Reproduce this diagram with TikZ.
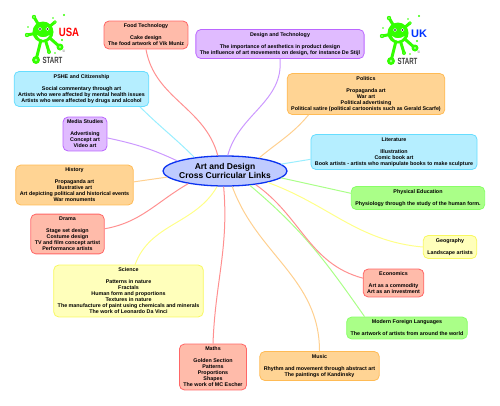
\documentclass[tikz,border=0pt]{standalone}
\usepackage{fontspec}
\setmainfont{Liberation Sans}
\usetikzlibrary{positioning, shapes.geometric}
\definecolor{redfill}{HTML}{FFBBAA}
\definecolor{redline}{HTML}{FF6666}
\definecolor{redlink}{HTML}{FF9090}
\definecolor{violetfill}{HTML}{E0BBFF}
\definecolor{violetline}{HTML}{BB66FF}
\definecolor{violetlink}{HTML}{CC99FF}
\definecolor{cyanfill}{HTML}{B5EEFF}
\definecolor{cyanline}{HTML}{66DDFF}
\definecolor{cyanlink}{HTML}{99EEFF}
\definecolor{orangefill}{HTML}{FFD494}
\definecolor{orangeline}{HTML}{FFBB55}
\definecolor{orangelink}{HTML}{FFD08F}
\definecolor{greenfill}{HTML}{AAFF88}
\definecolor{greenline}{HTML}{88FF66}
\definecolor{greenlink}{HTML}{AAFF88}
\definecolor{yellowfill}{HTML}{FFFFBB}
\definecolor{yellowline}{HTML}{F8F860}
\definecolor{yellowlink}{HTML}{FFFF88}
\definecolor{hubfill}{HTML}{BFCBFF}
\definecolor{hubline}{HTML}{0A32F0}
\definecolor{splatgreen}{HTML}{33FF00}
\tikzset{
    topic/.style={rectangle, rounded corners=5pt, draw=#1line, fill=#1fill, line width=0.8pt,
        align=center, inner xsep=4pt, inner ysep=3pt,
        font=\bfseries\fontsize{5.35}{6}\selectfont},
    link/.style={draw=#1link, line width=1pt},
    splat/.pic={
        % Legs, then blobs
        \foreach \bx/\by/\br in {-7/28/4, 17/15/3.5, 6/20/2, -9/-15/2.2, 12/-10/1.8, -16/3/2.2} {
            \draw[splatgreen, line width=3pt] (0,0) -- (\bx,\by);
            \fill[splatgreen] (\bx,\by) circle (\br pt);
            \fill[splatgreen!45!white] (\bx,\by) circle (0.35*\br pt);
        }
        \foreach \bx/\by/\br in {21/-17/1.1, 10/-14/0.9, 19/8/1.1, -15/-5/0.9, 12/21/0.8} {
            \fill[splatgreen] (\bx,\by) circle (\br pt);
        }
        \fill[splatgreen] (0,0) circle (10.5pt);
        % Face
        \fill[white] (-3,-3) circle (1.9pt) (4.5,-3) circle (1.9pt);
        \fill[black!70] (-3,-3) circle (1.1pt) (4.5,-3) circle (1.1pt);
        \fill[white] (-6,3) .. controls (-3,9.5) and (3,9.5) .. (6.5,3) .. controls (2,6) and (-2,6) .. cycle;
        \node[text=black!65, font=\fontsize{3.5}{4}\selectfont, inner sep=0pt] (-mark) at (21,19.5) {©};
        \node[text=black!75, font=\bfseries\fontsize{9}{9}\selectfont, inner sep=0pt, xscale=0.68] (-start) at (9.5,28.5) {START};
    },
}
\begin{document}
\begin{tikzpicture}[x=1pt, y=-1pt, on grid]
    \useasboundingbox (0,0) rectangle (500,405);

    % Hub
    \node[ellipse, draw=hubline, fill=hubfill, line width=1.3pt, minimum width=124pt, minimum height=30pt,
        inner xsep=-2pt, inner ysep=0pt, align=center, font=\bfseries\fontsize{8.5}{9}\selectfont] (hub) at (225,171)
        {Art and Design\\Cross Curricular Links};

    % Topics
    \node[topic=red] (food) [above left=136pt and 79pt of hub] {Food Technology\\[6pt]Cake design\\The food artwork of Vik Muniz};
    \node[topic=violet] (design) [above right=127pt and 55pt of hub] {Design and Technology\\[6pt]The importance of aesthetics in product design\\The influence of art movements on design, for instance De Stijl};
    \node[topic=cyan] (pshe) [above left=82pt and 143.5pt of hub] {PSHE and Citizenship\\[6pt]Social commentary through art\\Artists who were affected by mental health issues\\Artists who were affected by drugs and alcohol};
    \node[topic=violet] (media) [above left=37pt and 140pt of hub] {Media Studies\\[6pt]Advertising\\Concept art\\Video art};
    \node[topic=orange] (politics) [above right=77pt and 141pt of hub] {Politics\\[6pt]Propaganda art\\War art\\Political advertising\\Political satire (political cartoonists such as Gerald Scarfe)};
    \node[topic=cyan] (literature) [above right=19pt and 169pt of hub] {Literature\\[6pt]Illustration\\Comic book art\\Book artists - artists who manipulate books to make sculpture};
    \node[topic=green] (physical) [below right=27pt and 193pt of hub] {Physical Education\\[6pt]Physiology through the study of the human form.};
    \node[topic=yellow] (geography) [below right=76pt and 225pt of hub] {Geography\\[6pt]Landscape artists};
    \node[topic=red] (economics) [below right=112pt and 168.5pt of hub] {Economics\\[6pt]Art as a commodity\\Art as an investment};
    \node[topic=green] (languages) [below right=157pt and 182pt of hub] {Modern Foreign Languages\\[6pt]The artwork of artists from around the world};
    \node[topic=orange] (music) [below right=195pt and 94.5pt of hub] {Music\\[6pt]Rhythm and movement through abstract art\\The paintings of Kandinsky};
    \node[topic=red] (maths) [below left=196pt and 12pt of hub] {Maths\\[6pt]Golden Section\\Patterns\\Proportions\\Shapes\\The work of MC Escher};
    \node[topic=yellow] (science) [below left=120pt and 96.5pt of hub] {Science\\[6pt]Patterns in nature\\Fractals\\Human form and proportions\\Textures in nature\\The manufacture of paint using chemicals and minerals\\The work of Leonardo Da Vinci};
    \node[topic=red] (drama) [below left=63pt and 157.5pt of hub] {Drama\\[6pt]Stage set design\\Costume design\\TV and film concept artist\\Performance artists};
    \node[topic=orange] (history) [below left=14pt and 150.5pt of hub] {History\\[6pt]Propaganda art\\Illustrative art\\Art depicting political and historical events\\War monuments};

    % Links from the hub
    \path
        (hub.115) edge [link=red, out=105, in=-80] (food.south)
        (hub.80) edge [link=violet, out=75, in=-85] (design.south)
        (hub.156) edge [link=cyan, out=135, in=-45] (pshe.-17)
        (hub.168) edge [link=violet, out=155, in=-12] (media.-10)
        (hub.186) edge [link=orange] (history.3)
        (hub.199) edge [link=red, out=210, in=10] (drama.8)
        (hub.243) edge [link=yellow, out=240, in=70] (science.76)
        (hub.265) edge [link=red, out=-85, in=88] (maths.north)
        (hub.-65) edge [link=orange, out=-70, in=90] (music.north)
        (hub.-30) edge [link=green, out=-40, in=125] (languages.165)
        (hub.-24) edge [link=red, out=-35, in=165] (economics.171)
        (hub.-15) edge [link=yellow, out=-20, in=175] (geography.west)
        (hub.-7) edge [link=green] (physical.176)
        (hub.7) edge [link=cyan] (literature.185)
        (hub.21) edge [link=orange, out=40, in=-130] (politics.200);

    % Logos
    \pic (usa) at ([shift={(-182,-139)}]hub) {splat};
    \pic (uk) at ([shift={(173,-138)}]hub) {splat};
    \node[text=red, font=\bfseries\fontsize{12}{12}\selectfont, xscale=0.8, inner sep=0pt] (usalabel) at ([shift={(-156,-139)}]hub) {USA};
    \node[text=blue!80!cyan, font=\bfseries\fontsize{11}{11}\selectfont, inner sep=0pt] (uklabel) at ([shift={(194,-137)}]hub) {UK};
\end{tikzpicture}
\end{document}
